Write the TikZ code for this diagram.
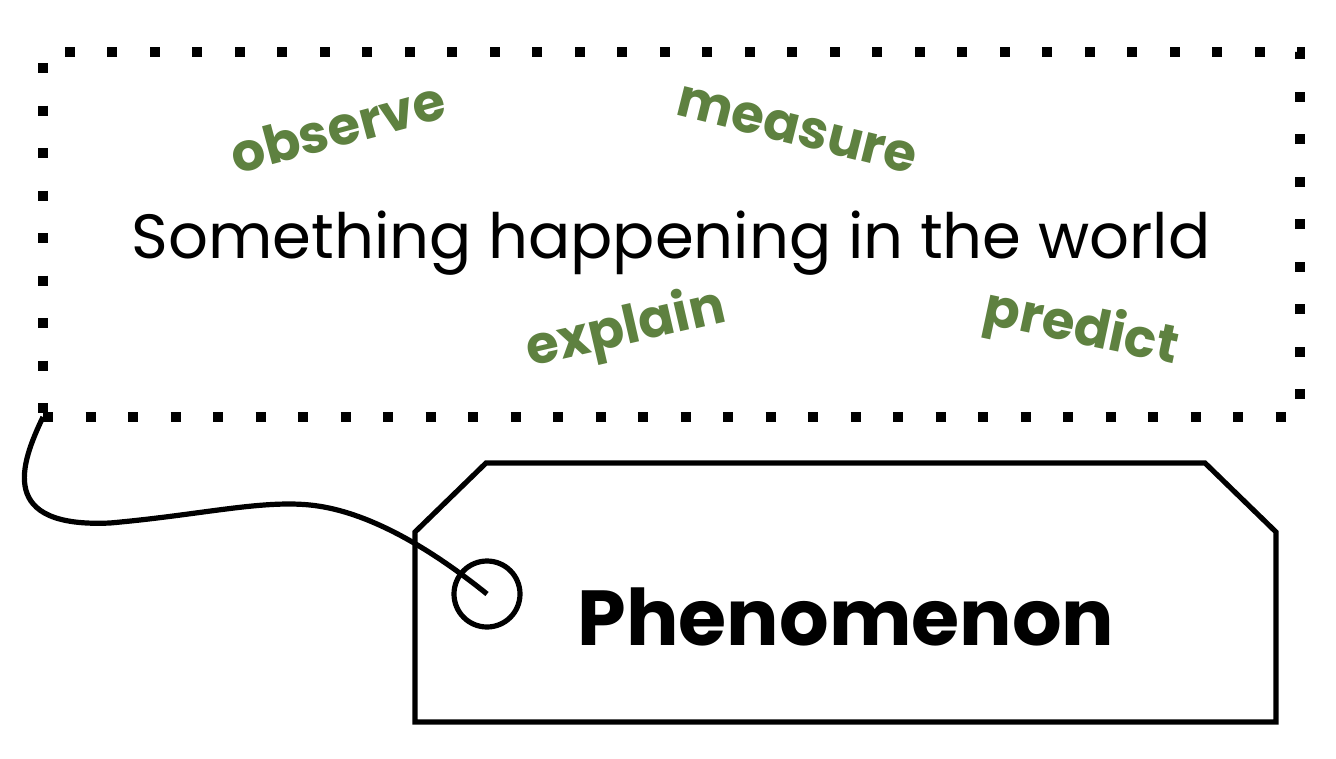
\documentclass[tikz,border=0pt]{standalone}
\usepackage{fontspec}
\setmainfont{Poppins}
\definecolor{leaf}{HTML}{5E8140}
\begin{document}
\begin{tikzpicture}[x=1pt,y=-1pt,
  verb/.style={text=leaf, font=\fontsize{53}{53}\selectfont\bfseries, inner sep=0},
  cord/.style={line width=5.2pt}]
\useasboundingbox (0,0) rectangle (1336,758);
% dotted frame
\node[draw, dash pattern=on 10pt off 32.5pt, line width=10pt, minimum width=1257pt,
      minimum height=365pt, inner sep=0, outer sep=0] (box) at (671.5,234.5) {};
\node[font=\fontsize{62.5}{62.5}\selectfont, anchor=base, inner sep=0] (main) at (671,258) {Something happening in the world};
\node[verb, rotate=15] (observe) at (338,127) {observe};
\node[verb, rotate=-14] (measure) at (797,130) {measure};
\node[verb, rotate=13] (explain) at (626,330) {explain};
\node[verb, rotate=-12] (predict) at (1081,330) {predict};
% tag
\node[minimum width=861pt, minimum height=259pt, inner sep=0, outer sep=0] (tag) at (845.5,592.5) {};
\draw[cord, line join=miter] (tag.south west) -- ([yshift=-69pt]tag.north west) -- ([xshift=71pt]tag.north west)
  -- ([xshift=-71pt]tag.north east) -- ([yshift=-69pt]tag.north east) -- (tag.south east) -- cycle;
\node[font=\fontsize{78}{78}\selectfont\bfseries, anchor=base, inner sep=0] (label) at (846,645) {Phenomenon};
\node[circle, draw, cord, minimum size=66pt, inner sep=0] (hole) at (487,594) {};
% string
\draw[cord] (box.south west) .. controls (20,465) and (-2,528) .. (110,523)
  .. controls (200,515) and (260,500) .. (310,505)
  .. controls (360,510) and (420,540) .. (hole.center);
\end{tikzpicture}
\end{document}
